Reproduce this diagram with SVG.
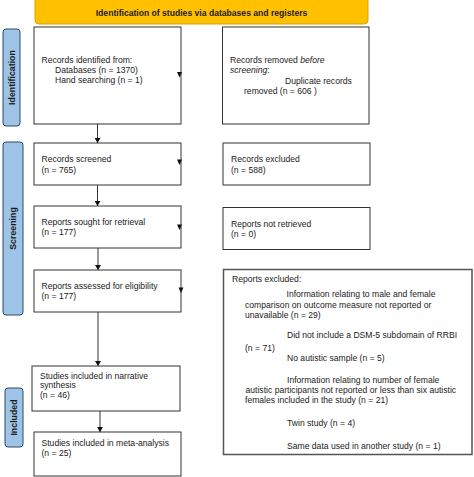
<svg xmlns="http://www.w3.org/2000/svg" width="474" height="477" viewBox="0 0 474 477">
<style>
text{font-family:"Liberation Sans",Arial,sans-serif;font-size:8.6px;fill:#222}
.box{fill:#fff;stroke:#333;stroke-width:1}
.tab{fill:#9DC3E6;stroke:#2E4A66;stroke-width:1}
.tl{font-weight:bold;font-size:8.8px;text-anchor:middle;fill:#1a1a1a}
.ln{stroke:#333;stroke-width:1;fill:none}
.tri{fill:#111}
</style>
<defs>
<marker id="ah" markerWidth="6" markerHeight="6" refX="5" refY="3" orient="auto" markerUnits="userSpaceOnUse">
<path d="M0,0 L5,3 L0,6 Z" fill="#111"/>
</marker>
</defs>
<rect width="474" height="477" fill="#fff"/>
<g id="banner">
<rect x="35" y="-4" width="333" height="28" rx="4" fill="#FFC000" stroke="#D9A400" stroke-width="1"/>
<text x="201.5" y="16" text-anchor="middle" style="font-weight:bold;font-size:8.6px">Identification of studies via databases and registers</text>
</g>
<g id="tab-identification">
<rect class="tab" x="3" y="29" width="17" height="97" rx="3"/>
<text class="tl" transform="translate(14.5,77.5) rotate(-90)">Identification</text>
</g>
<g id="tab-screening">
<rect class="tab" x="3" y="142" width="20" height="173" rx="3"/>
<text class="tl" transform="translate(16,228.5) rotate(-90)">Screening</text>
</g>
<g id="tab-included">
<rect class="tab" x="5" y="388" width="18" height="59" rx="3"/>
<text class="tl" transform="translate(17,417.5) rotate(-90)">Included</text>
</g>
<g id="records-identified">
<rect class="box" x="34" y="27" width="147" height="97"/>
<text x="41.5" y="63">Records identified from:</text>
<text x="55" y="73">Databases (n = 1370)</text>
<text x="55" y="83">Hand searching (n = 1)</text>
</g>
<g id="records-removed">
<rect class="box" x="222.5" y="27" width="146.5" height="97"/>
<text x="230" y="63">Records removed <tspan font-style="italic">before</tspan></text>
<text x="230" y="73" font-style="italic">screening<tspan font-style="normal">:</tspan></text>
<text x="285" y="83.5">Duplicate records</text>
<text x="244" y="93.5">removed  (n = 606 )</text>
</g>
<g id="records-screened">
<rect class="box" x="34" y="143" width="147" height="42"/>
<text x="41.5" y="162">Records screened</text>
<text x="41.5" y="172.5">(n = 765)</text>
</g>
<g id="records-excluded">
<rect class="box" x="223" y="143" width="147" height="42"/>
<text x="231" y="162">Records excluded</text>
<text x="231" y="172.5">(n = 588)</text>
</g>
<g id="reports-sought">
<rect class="box" x="34" y="206" width="147" height="42"/>
<text x="41.5" y="225">Reports sought for retrieval</text>
<text x="41.5" y="235">(n = 177)</text>
</g>
<g id="reports-not-retrieved">
<rect class="box" x="223" y="207.5" width="147" height="42"/>
<text x="231" y="227">Reports not retrieved</text>
<text x="231" y="237">(n = 0)</text>
</g>
<g id="reports-assessed">
<rect class="box" x="34" y="270" width="147" height="42"/>
<text x="41.5" y="288.5">Reports assessed for eligibility</text>
<text x="41.5" y="299">(n = 177)</text>
</g>
<g id="reports-excluded">
<rect x="223.5" y="269.5" width="248.5" height="185" fill="#fff" stroke="#555" stroke-width="1.5"/>
<text x="232" y="282">Reports excluded:</text>
<text x="286.5" y="297">Information relating to male and female</text>
<text x="245" y="308">comparison on outcome measure not reported or</text>
<text x="245" y="317.5">unavailable (n = 29)</text>
<text x="287" y="338">Did not include a DSM-5 subdomain of RRBI</text>
<text x="245" y="351">(n = 71)</text>
<text x="287" y="360.5">No autistic sample (n = 5)</text>
<text x="287" y="383">Information relating to number of female</text>
<text x="245.5" y="393">autistic participants not reported or less than six autistic</text>
<text x="245" y="403">females included in the study (n = 21)</text>
<text x="287" y="425.5">Twin study (n = 4)</text>
<text x="287" y="449">Same data used in another study (n = 1)</text>
</g>
<g id="narrative-synthesis">
<rect class="box" x="32" y="366" width="148" height="45"/>
<text x="40" y="378.5">Studies included in narrative</text>
<text x="40" y="387.5">synthesis</text>
<text x="40" y="397.5">(n = 46)</text>
</g>
<g id="meta-analysis">
<rect class="box" x="34" y="432" width="147" height="44"/>
<text x="41.5" y="445.5">Studies included in meta-analysis</text>
<text x="41.5" y="456">(n = 25)</text>
</g>
<g id="connectors">
<line class="ln" x1="97.5" y1="124" x2="97.5" y2="143" marker-end="url(#ah)"/>
<line class="ln" x1="97.5" y1="185" x2="97.5" y2="206" marker-end="url(#ah)"/>
<line class="ln" x1="98" y1="248" x2="98" y2="270" marker-end="url(#ah)"/>
<line class="ln" x1="98" y1="312" x2="98" y2="366" marker-end="url(#ah)"/>
<line class="ln" x1="100" y1="411" x2="100" y2="432" marker-end="url(#ah)"/>
<path class="tri" d="M177,72 L182,72 L179.5,77.5 Z"/>
<path class="tri" d="M177,159.5 L182,159.5 L179.5,165 Z"/>
<path class="tri" d="M177,224.5 L182,224.5 L179.5,230 Z"/>
<path class="tri" d="M178.5,287.5 L183.5,287.5 L181,293 Z"/>
</g>
</svg>
